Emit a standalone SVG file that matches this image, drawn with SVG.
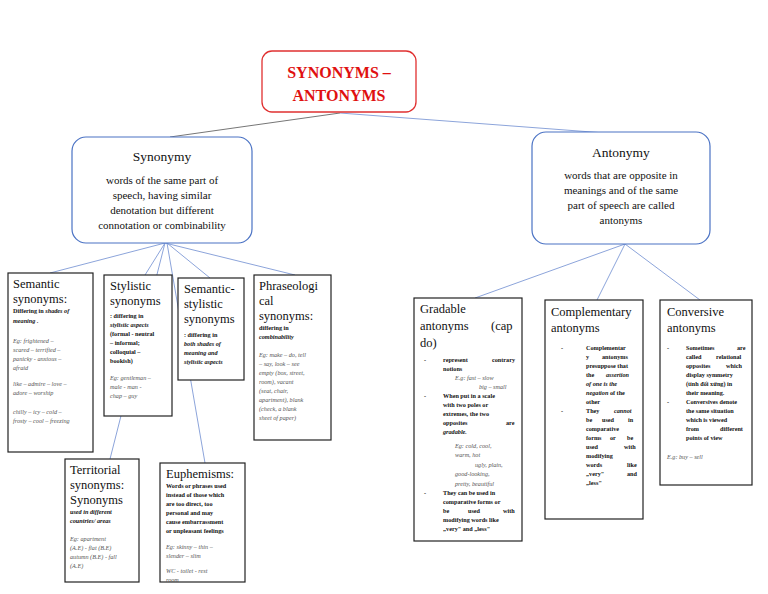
<svg xmlns="http://www.w3.org/2000/svg" width="768" height="594" viewBox="0 0 768 594" font-family="'Liberation Serif','DejaVu Serif',serif">
<style>
text{font-family:"Liberation Serif","DejaVu Serif",serif;fill:#111}
.box{fill:#fff;stroke:#222;stroke-width:1.2}
.rb{fill:#fff;stroke:#4a72c4;stroke-width:1.2}
.h{font-size:12.5px}
.b{font-size:6.2px;font-weight:bold}
.bi{font-size:6.2px;font-weight:bold;font-style:italic}
.e{font-size:6.2px;font-style:italic;fill:#555}
.m{font-size:11px;text-anchor:middle}
.t{font-size:13.5px;text-anchor:middle}
.ln{stroke:#7f9ad6;stroke-width:0.9;fill:none}
</style>
<rect width="768" height="594" fill="#fff"/>
<g id="connectors">
<line class="ln" x1="340" y1="113" x2="170" y2="137" style="stroke:#666"/>
<line class="ln" x1="340" y1="113" x2="605" y2="133"/>
<line class="ln" x1="165" y1="243" x2="50" y2="273"/>
<line class="ln" x1="165" y1="243" x2="145" y2="275"/>
<line class="ln" x1="167" y1="243" x2="205" y2="463"/>
<line class="ln" x1="167" y1="243" x2="210" y2="278"/>
<line class="ln" x1="165" y1="243" x2="295" y2="275"/>
<line class="ln" x1="165" y1="243" x2="110" y2="459"/>
<line class="ln" x1="625" y1="244" x2="475" y2="298"/>
<line class="ln" x1="625" y1="244" x2="597" y2="300"/>
<line class="ln" x1="625" y1="244" x2="700" y2="300"/>
</g>
<g id="title">
<rect x="262" y="51" width="154" height="61" rx="10" fill="#fff" stroke="#e03030" stroke-width="1.3"/>
<text x="339" y="78" text-anchor="middle" style="font-size:16px;font-weight:bold;fill:#e01010">SYNONYMS –</text>
<text x="339" y="101" text-anchor="middle" style="font-size:16px;font-weight:bold;fill:#e01010">ANTONYMS</text>
</g>
<g id="synonymy">
<rect class="rb" x="72" y="137" width="180" height="106" rx="14"/>
<text class="t" x="162" y="161">Synonymy</text>
<text class="m" x="162" y="184">words of the same part of</text>
<text class="m" x="162" y="199">speech, having similar</text>
<text class="m" x="162" y="214">denotation but different</text>
<text class="m" x="162" y="229">connotation or combinability</text>
</g>
<g id="antonymy">
<rect class="rb" x="532" y="132" width="178" height="112" rx="14"/>
<text class="t" x="621" y="157">Antonymy</text>
<text class="m" x="621" y="179">words that are opposite in</text>
<text class="m" x="621" y="194">meanings and of the same</text>
<text class="m" x="621" y="209">part of speech are called</text>
<text class="m" x="621" y="224">antonyms</text>
</g>
<g id="semantic">
<rect class="box" x="8" y="273" width="85" height="179"/>
<text class="h" x="13" y="288">Semantic</text>
<text class="h" x="13" y="303">synonyms:</text>
<text class="b" x="13" y="313">Differing in <tspan font-style="italic">shades of</tspan></text>
<text class="bi" x="13" y="323">meaning .</text>
<text class="e" x="13" y="343">Eg: frightened –</text>
<text class="e" x="13" y="352">scared – terrified –</text>
<text class="e" x="13" y="361">panicky - anxious –</text>
<text class="e" x="13" y="370">afraid</text>
<text class="e" x="13" y="386">like – admire – love –</text>
<text class="e" x="13" y="395">adore – worship</text>
<text class="e" x="13" y="414">chilly – icy – cold –</text>
<text class="e" x="13" y="423">frosty – cool – freezing</text>
</g>
<g id="stylistic">
<rect class="box" x="104" y="275" width="68" height="141"/>
<text class="h" x="110" y="290">Stylistic</text>
<text class="h" x="110" y="305">synonyms</text>
<text class="b" x="110" y="318">: differing in</text>
<text class="bi" x="110" y="327">stylistic aspects</text>
<text class="b" x="110" y="336">(formal - neutral</text>
<text class="b" x="110" y="345">– informal;</text>
<text class="b" x="110" y="354">colloquial –</text>
<text class="b" x="110" y="363">bookish)</text>
<text class="e" x="110" y="380">Eg: gentleman –</text>
<text class="e" x="110" y="389">male - man -</text>
<text class="e" x="110" y="398">chap – guy</text>
</g>
<g id="semantic-stylistic">
<rect class="box" x="178" y="278" width="66" height="102"/>
<text class="h" x="184" y="293">Semantic-</text>
<text class="h" x="184" y="308">stylistic</text>
<text class="h" x="184" y="323">synonyms</text>
<text class="b" x="184" y="337">: differing in</text>
<text class="bi" x="184" y="346">both shades of</text>
<text class="bi" x="184" y="355">meaning and</text>
<text class="bi" x="184" y="364">stylistic aspects</text>
</g>
<g id="phraseological">
<rect class="box" x="254" y="275" width="77" height="165"/>
<text class="h" x="259" y="290">Phraseologi</text>
<text class="h" x="259" y="305">cal</text>
<text class="h" x="259" y="320">synonyms:</text>
<text class="b" x="259" y="330">differing in</text>
<text class="bi" x="259" y="339">combinability</text>
<text class="e" x="259" y="357">Eg: make – do, tell</text>
<text class="e" x="259" y="366">– say, look – see</text>
<text class="e" x="259" y="375">empty (box, street,</text>
<text class="e" x="259" y="384">room), vacant</text>
<text class="e" x="259" y="393">(seat, chair,</text>
<text class="e" x="259" y="402">apartment), blank</text>
<text class="e" x="259" y="411">(check, a blank</text>
<text class="e" x="259" y="420">sheet of paper)</text>
</g>
<g id="territorial">
<rect class="box" x="65" y="459" width="74" height="123"/>
<text class="h" x="70" y="474">Territorial</text>
<text class="h" x="70" y="489">synonyms:</text>
<text class="h" x="70" y="504">Synonyms</text>
<text class="bi" x="70" y="514">used in different</text>
<text class="bi" x="70" y="523">countries/ areas</text>
<text class="e" x="70" y="541">Eg: apartment</text>
<text class="e" x="70" y="550">(A.E) - flat (B.E)</text>
<text class="e" x="70" y="559">autumn (B.E) - fall</text>
<text class="e" x="70" y="568">(A.E)</text>
</g>
<g id="euphemisms">
<rect class="box" x="160" y="463" width="85" height="119"/>
<text class="h" x="166" y="478">Euphemisms:</text>
<text class="b" x="166" y="488">Words or phrases used</text>
<text class="b" x="166" y="497">instead of those which</text>
<text class="b" x="166" y="506">are too direct, too</text>
<text class="b" x="166" y="515">personal and may</text>
<text class="b" x="166" y="524">cause embarrassment</text>
<text class="b" x="166" y="533">or unpleasant feelings</text>
<text class="e" x="166" y="549">Eg: skinny – thin –</text>
<text class="e" x="166" y="558">slender – slim</text>
<text class="e" x="166" y="573">WC - toilet - rest</text>
<text class="e" x="166" y="582">room</text>
</g>
<g id="gradable">
<rect class="box" x="414" y="298" width="108" height="243"/>
<text class="h" x="420" y="313">Gradable</text>
<text class="h" x="420" y="330">antonyms<tspan x="491">(cap</tspan></text>
<text class="h" x="420" y="347">do)</text>
<text class="b" x="424" y="362">-</text>
<text class="b" x="443" y="362">represent<tspan x="492">contrary</tspan></text>
<text class="b" x="443" y="371">notions</text>
<text class="e" x="455" y="380">E.g: fast – slow</text>
<text class="e" x="479" y="389">big – small</text>
<text class="b" x="424" y="398">-</text>
<text class="b" x="443" y="398">When put in a scale</text>
<text class="b" x="443" y="407">with two poles or</text>
<text class="b" x="443" y="416">extremes, the two</text>
<text class="b" x="443" y="425">opposites<tspan x="506">are</tspan></text>
<text class="bi" x="443" y="434">gradable.</text>
<text class="e" x="455" y="448">Eg: cold, cool,</text>
<text class="e" x="455" y="457">warm, hot</text>
<text class="e" x="475" y="467">ugly, plain,</text>
<text class="e" x="455" y="476">good-looking,</text>
<text class="e" x="455" y="486">pretty, beautiful</text>
<text class="b" x="424" y="495">-</text>
<text class="b" x="443" y="495">They can be used in</text>
<text class="b" x="443" y="504">comparative forms or</text>
<text class="b" x="443" y="513">be<tspan x="468">used</tspan><tspan x="503">with</tspan></text>
<text class="b" x="443" y="522">modifying words like</text>
<text class="b" x="443" y="531">„very" and „less"</text>
</g>
<g id="complementary">
<rect class="box" x="545" y="300" width="98" height="219"/>
<text class="h" x="551" y="316">Complementary</text>
<text class="h" x="551" y="332">antonyms</text>
<text class="b" x="561" y="350">-</text>
<text class="b" x="586" y="350">Complementar</text>
<text class="b" x="586" y="359">y<tspan x="602">antonyms</tspan></text>
<text class="b" x="586" y="368">presuppose that</text>
<text class="b" x="586" y="377">the <tspan font-style="italic" x="606">assertion</tspan></text>
<text class="bi" x="586" y="386">of one is the</text>
<text class="b" x="586" y="395"><tspan font-style="italic">negation</tspan> of the</text>
<text class="b" x="586" y="404">other</text>
<text class="b" x="561" y="413">-</text>
<text class="b" x="586" y="413">They<tspan x="614" font-style="italic">cannot</tspan></text>
<text class="b" x="586" y="422">be<tspan x="602">used</tspan><tspan x="628">in</tspan></text>
<text class="b" x="586" y="431">comparative</text>
<text class="b" x="586" y="440">forms<tspan x="610">or</tspan><tspan x="627">be</tspan></text>
<text class="b" x="586" y="449">used<tspan x="624">with</tspan></text>
<text class="b" x="586" y="458">modifying</text>
<text class="b" x="586" y="467">words<tspan x="627">like</tspan></text>
<text class="b" x="586" y="476">„very"<tspan x="627">and</tspan></text>
<text class="b" x="586" y="485">„less"</text>
</g>
<g id="conversive">
<rect class="box" x="660" y="300" width="92" height="185"/>
<text class="h" x="667" y="316">Conversive</text>
<text class="h" x="667" y="332">antonyms</text>
<text class="b" x="667" y="350">-</text>
<text class="b" x="686" y="350">Sometimes<tspan x="737">are</tspan></text>
<text class="b" x="686" y="359">called<tspan x="716">relational</tspan></text>
<text class="b" x="686" y="368">opposites<tspan x="726">which</tspan></text>
<text class="b" x="686" y="377">display symmetry</text>
<text class="b" x="686" y="386">(tính đối xứng) in</text>
<text class="b" x="686" y="395">their meaning.</text>
<text class="b" x="667" y="404">-</text>
<text class="b" x="686" y="404">Conversives denote</text>
<text class="b" x="686" y="413">the same situation</text>
<text class="b" x="686" y="422">which is viewed</text>
<text class="b" x="686" y="431">from<tspan x="720">different</tspan></text>
<text class="b" x="686" y="440">points of view</text>
<text class="e" x="667" y="459">E.g: buy – sell</text>
</g>
</svg>
